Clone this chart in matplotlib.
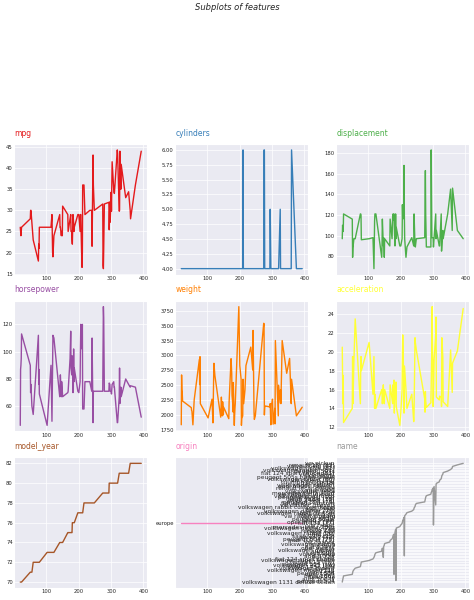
import matplotlib
matplotlib.use("Agg")
import matplotlib.pyplot as plt
import seaborn as sns
import pandas as pd

index = [19,20,21,22,23,50,51,52,55,59,75,76,77,78,102,114,117,119,120,123,141,142,143,146,147,149,150,166,167,173,175,176,178,179,180,182,183,184,185,186,197,200,204,205,206,209,210,211,212,216,219,234,240,241,244,245,248,274,275,276,277,279,293,294,296,297,300,301,303,308,309,310,319,320,325,326,327,330,331,345,354,359,360,375,393]
mpg = [26,25,24,25,26,28,30,30,27,23,18,22,21,26,26,26,29,20,19,24,29,26,26,24,25,24,31,29,25,28,29,25,25,23,22,29,28,27,25,26,29,29,25,29,29,19,16.5,20,36,36,29,30,30,21.5,43.1,36,30,31.5,17,16.2,21,31.5,31.9,25.4,32,27.2,34.3,29.8,41.5,35,34.3,34,44.3,43.4,29.8,30,44,35,40.9,33,34.4,29.9,28,36,44]
cylinders = [4,4,4,4,4,4,4,4,4,4,4,4,4,4,4,4,4,4,4,4,4,4,4,4,4,4,4,4,4,4,4,4,4,4,4,4,4,4,4,4,4,4,4,4,4,4,6,4,4,4,4,4,4,4,4,4,4,4,6,6,4,4,4,5,4,4,4,4,4,4,4,4,4,4,5,4,4,4,4,4,4,4,6,4,4]
displacement = [97,110,107,104,121,116,79,88,97,97,121,121,120,96,97,98,68,114,121,121,79,90,116,90,98,79,97,90,116,97,120,121,115,121,108,90,98,121,97,108,90,90,97,130,116,121,168,120,97,79,89,98,90,121,90,89,97,98,131,163,121,89,89,183,98,98,98,89,98,121,97,105,90,90,121,85,90,105,97,121,145,105,146,105,97]
horsepower = [46,87,90,95,113,90,70,76,60,54,112,76,87,69,46,90,49,91,112,110,67,75,83,67,78,71,67,70,71,95,115,88,83,97,95,70,71,102,78,88,71,70,78,102,120,115,102,120,58,58,78,78,71,110,48,71,71,71,103,133,125,71,71,77,76,71,71,69,76,78,74,74,48,48,67,88,62,74,67,80,76,74,75,74,52]
weight = [1835,2672,2430,2375,2234,2123,2074,2065,1834,2254,2933,2511,2979,2189,1950,2265,1867,2582,2868,2660,1963,2108,2300,1985,2220,2000,2130,1937,2223,2945,2700,2330,2200,2050,2545,2000,1825,1990,2108,2190,3820,2830,2600,1825,1940,1985,2600,2500,2190,2420,2830,3140,2755,3420,2051,1925,1985,3540,3530,2000,2130,2150,2135,2190,1835,2190,2200,2265,1845,2110,1850,3250,1985,2500,2200,2420,2190,2950,3250,2700,2950,2190,2600,1985,2130]
acceleration = [20.5,17.5,14.5,17.5,12.5,14,19.5,14.5,19,23.5,14.5,18,19.5,18,21,15.5,19.5,14,15.5,14,16,15.5,14.5,16.5,15,14.5,16,14,16.5,15,14.5,16.5,15.5,17,13.5,16.4,15.5,15,16.8,14.2,12.2,13.5,16,19.3,21.8,17,13.5,18.5,18.2,16,14,15.5,12.6,13.5,21.5,21,20.2,15,13.6,15.8,14.8,14.1,14.6,16.4,20.4,24.8,14.2,15.3,19.2,21.7,23.7,15.2,14.9,15.3,15.2,14.2,21.5,19.4,14.7,14.2,20.2,15.7,18.8,20.1,24.6]
model_year = [70,70,70,70,70,71,71,71,71,72,72,72,72,72,73,73,73,73,73,73,74,74,74,74,74,74,74,75,75,75,75,75,75,75,76,76,76,76,76,76,77,77,77,77,77,77,77,77,77,78,78,78,78,78,78,78,78,79,79,79,79,79,79,80,80,80,80,80,80,80,80,80,80,80,81,81,81,81,81,81,81,82,82,82,82]
names = ["volkswagen 1131 deluxe sedan","peugeot 504","audi 100 ls","saab 99e","bmw 2002","opel 1900","peugeot 304","fiat 124b","volkswagen model 111","volkswagen type 3",
"volvo 145e (sw)","volkswagen 411 (sw)","peugeot 504 (sw)","renault 12 (sw)","volkswagen super beetle","fiat 124 sport coupe","fiat 128","audi 100ls","volvo 144ea","saab 99le",
"audi fox","volkswagen dasher","opel manta","fiat 128","fiat 124 tc","fiat x1.9","volkswagen rabbit","vw dasher","audi 100 ls (75)","peugeot 504 (75)",
"volvo 244dl","saab 99le (75)","fiat 131","opel 1900","audi fox","volkswagen rabbit (76)","renault 12tl","volvo 245","peugeot 504","volkswagen dasher (76)",
"mercedes-benz 280s","vw rabbit","fiat 131 (77)","opel manta (77)","saab 99gle","peugeot 604sl","volvo 264gl","audi 100ls","vw rabbit custom","renault 5 gtl",
"volkswagen rabbit custom","volkswagen dasher (78)","bmw 320i","audi 5000","volkswagen rabbit custom diesel","vw dasher (diesel)","fiat strada custom","peugeot 504 (79)","volvo 244dl (79)","saab 99gle (79)",
"peugeot 604sl (79)","volkswagen scirocco","vw rabbit c (diesel)","mercedes benz 300d","volkswagen jetta","audi 4000","renault lecar deluxe","vw rabbit","audi 5000s (diesel)","vw dasher (diesel)",
"volkswagen rabbit l","renault 18i","triumph tr7 coupe","vw pickup (80)","volkswagen rabbit (80)","peugeot 505s turbo diesel","saab 900s","volvo diesel","fiat 124 sport coupe (81)","peugeot 505s",
"volkswagen rabbit l (81)","volkswagen jetta (81)","volvo 264gl (81)","renault 18i (82)","vw pickup"]
origin = ["europe"] * len(index)

df = pd.DataFrame({"mpg": mpg, "cylinders": cylinders, "displacement": displacement,
                   "horsepower": horsepower, "weight": weight, "acceleration": acceleration,
                   "model_year": model_year, "origin": origin, "name": names}, index=index)

sns.set_style("darkgrid")
plt.rcParams['font.family'] = ['DejaVu Sans']
colors = sns.color_palette("Set1", 9)

fig, axes = plt.subplots(3, 3, figsize=(4.74, 6), dpi=100)
fig.subplots_adjust(left=0.03, right=0.99, top=0.76, bottom=0.02, wspace=0.21, hspace=0.2)
fig.suptitle("Subplots of features", fontsize=6, style="italic", y=0.995)

for ax, col, c in zip(axes.flat, df.columns, colors):
    ax.plot(df.index, df[col], color=c, linewidth=1)
    ax.set_title(col, color=c, fontsize=5.5, loc="left")
    ax.tick_params(labelsize=3.8, pad=1, length=0)
    ax.grid(color="white", linewidth=0.5)
axes[2, 2].tick_params(axis="y", labelsize=4.2)
fig.savefig("out.png", dpi=100)
